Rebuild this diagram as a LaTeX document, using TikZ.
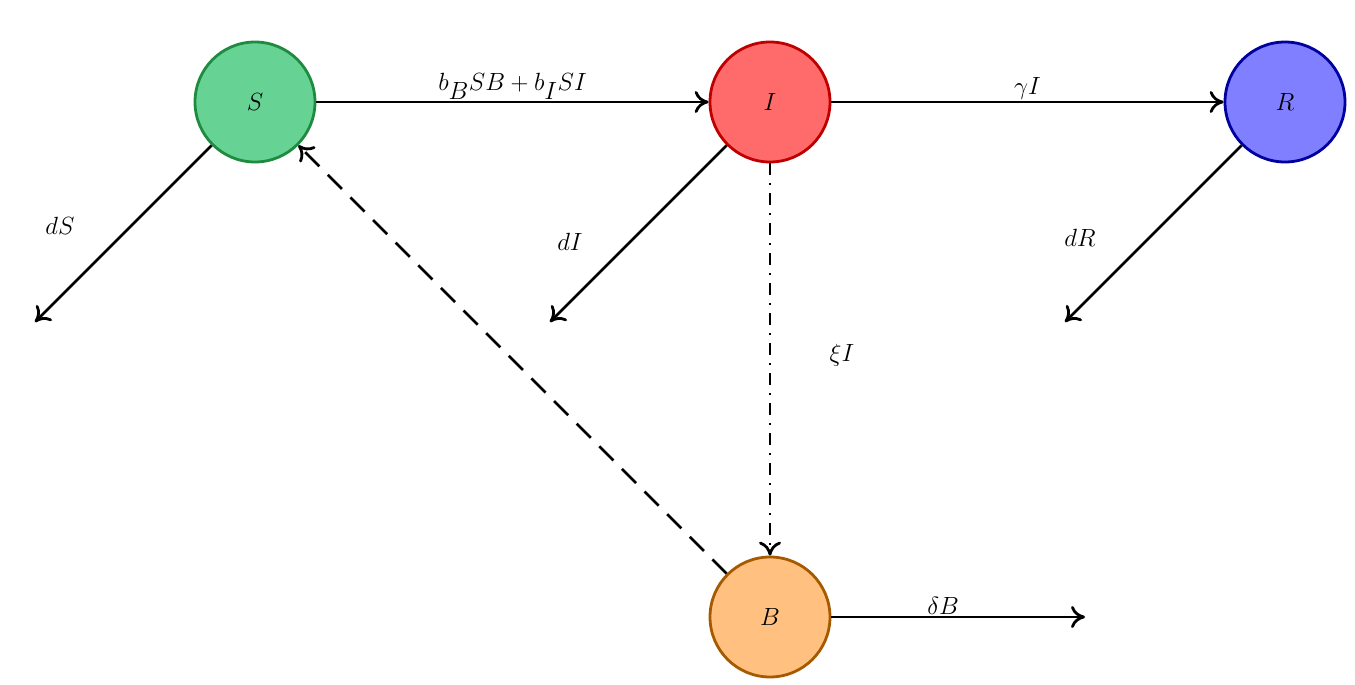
\documentclass[tikz,border=0pt]{standalone}
\usetikzlibrary{arrows.meta}
\definecolor{sfill}{HTML}{66D395}\definecolor{sdraw}{HTML}{1E8B40}
\definecolor{ifill}{HTML}{FF6B6B}\definecolor{idraw}{HTML}{C00000}
\definecolor{rfill}{HTML}{7F7FFF}\definecolor{rdraw}{HTML}{0000A0}
\definecolor{bfill}{HTML}{FFC080}\definecolor{bdraw}{HTML}{A65A00}
\begin{document}
\begin{tikzpicture}[x=1pt,y=-1pt,line width=2.8pt,
  comp/.style={circle,draw,minimum size=120pt,inner sep=0pt,font=\fontsize{60}{70}\selectfont},
  lab/.style={font=\fontsize{60}{70}\selectfont},
  flow/.style={-{To[length=14pt,width=22pt]}}]
\useasboundingbox (0,0) rectangle (1355,685);
\node[comp,fill=sfill,draw=sdraw] (S) at (255,102) {$S$};
\node[comp,fill=ifill,draw=idraw] (I) at (770,102) {$I$};
\node[comp,fill=rfill,draw=rdraw] (R) at (1285,102) {$R$};
\node[comp,fill=bfill,draw=bdraw] (B) at (770,617) {$B$};
\coordinate (s1) at (35,322);
\coordinate (i1) at (550,322);
\coordinate (r1) at (1065,322);
\coordinate (b1) at (1085,617);
\draw[flow] (S) -- node[lab,above,yshift=-2pt]{$b_BSB+b_ISI$} (I);
\draw[flow] (I) -- node[lab,above,yshift=-2pt]{$\gamma I$} (R);
\draw[flow] (S.225) -- (s1);
\draw[flow] (I.225) -- (i1);
\draw[flow] (R.225) -- (r1);
\node[lab] (ls) at (60,226) {$dS$};
\node[lab] (li) at (570,242) {$dI$};
\node[lab] (lr) at (1080,238) {$dR$};
\draw[flow,dash pattern=on 12pt off 8pt on 2pt off 8pt] (I) -- (B);
\node[lab] (lx) at (842,355) {$\xi I$};
\draw[flow,dash pattern=on 20pt off 12pt] (B.135) -- (S.-45);
\draw[flow] (B) -- node[lab,above,yshift=-2pt,xshift=-15pt]{$\delta B$} (b1);
\end{tikzpicture}
\end{document}
